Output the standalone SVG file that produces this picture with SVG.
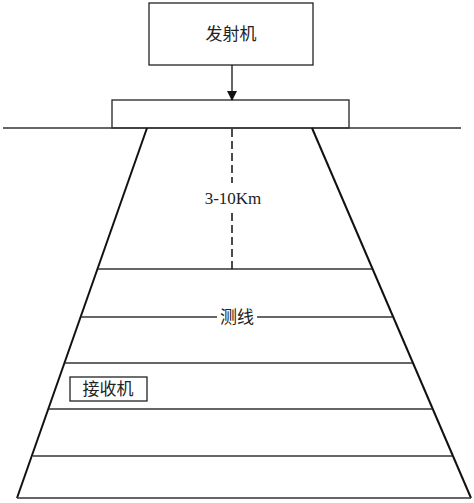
<svg xmlns="http://www.w3.org/2000/svg" width="474" height="503" viewBox="0 0 474 503">
  <style>
    .box { fill: #fff; stroke: #222; stroke-width: 1.3; }
    .edge { stroke: #111; stroke-width: 2; fill: none; }
    .hl { stroke: #333; stroke-width: 1.5; fill: none; }
    .cjk { font-family: "Noto Sans CJK SC", "Liberation Sans", sans-serif; font-size: 17px; fill: #222; text-anchor: middle; }
    .lat { font-family: "Liberation Serif", serif; font-size: 17px; fill: #222; text-anchor: middle; }
  </style>
  <defs>
    <marker id="arr" markerWidth="10" markerHeight="10" refX="9" refY="5" orient="auto" markerUnits="userSpaceOnUse">
      <path d="M0,0 L10,5 L0,10 z" fill="#111"/>
    </marker>
  </defs>
  <rect width="474" height="503" fill="#fff"/>

  <g id="transmitter">
    <rect class="box" x="149" y="3" width="164" height="62"/>
    <text class="cjk" x="231" y="40">发射机</text>
  </g>

  <g id="antenna">
    <rect class="box" x="112" y="100" width="237" height="28"/>
  </g>

  <g id="connectors">
    <line x1="232" y1="65" x2="232" y2="100" stroke="#111" stroke-width="1.3" marker-end="url(#arr)"/>
    <!-- ground line -->
    <line class="hl" x1="3" y1="128" x2="461" y2="128"/>
    <!-- trapezoid edges -->
    <line class="edge" x1="147" y1="128" x2="17" y2="498"/>
    <line class="edge" x1="312" y1="128" x2="471" y2="498"/>
    <!-- horizontal survey lines -->
    <line class="hl" x1="98" y1="269" x2="372" y2="269"/>
    <line class="hl" x1="81" y1="317" x2="217" y2="317"/>
    <line class="hl" x1="257" y1="317" x2="392" y2="317"/>
    <line class="hl" x1="65" y1="363" x2="412" y2="363"/>
    <line class="hl" x1="49" y1="409" x2="432" y2="409"/>
    <line class="hl" x1="33" y1="456" x2="452" y2="456"/>
    <line class="hl" x1="17" y1="498" x2="471" y2="498"/>
    <!-- dashed depth line -->
    <line x1="232" y1="129" x2="232" y2="183" stroke="#111" stroke-width="1.5" stroke-dasharray="8,4"/>
    <line x1="232" y1="213" x2="232" y2="269" stroke="#111" stroke-width="1.5" stroke-dasharray="8,4"/>
  </g>

  <g id="depth-label">
    <text class="lat" x="233" y="204">3-10Km</text>
  </g>

  <g id="survey-line-label">
    <text class="cjk" x="237" y="323">测线</text>
  </g>

  <g id="receiver">
    <rect class="box" x="70" y="377" width="77" height="24"/>
    <text class="cjk" x="108" y="395">接收机</text>
  </g>
</svg>
